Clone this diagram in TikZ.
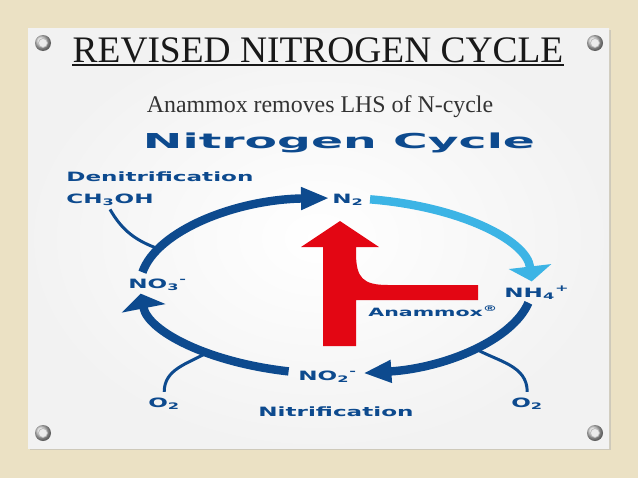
\documentclass[tikz,border=0pt]{standalone}
\usepackage{fontspec}
\setmainfont{Liberation Serif}
\newfontfamily\labfont{DejaVu Sans}[FakeStretch=1.8]
\newfontfamily\headfont{DejaVu Sans}[FakeStretch=2.3]
\usetikzlibrary{arrows.meta}
\definecolor{navy}{HTML}{0D4A8E}
\definecolor{sky}{HTML}{3CB4E5}
\definecolor{anared}{HTML}{E30613}
\definecolor{canvas}{HTML}{EBE1C4}
\definecolor{board}{HTML}{F6F6F6}
\tikzset{
  heading/.style={font=\fontsize{21.3}{24}\selectfont, text=black!90, inner sep=0pt},
  sub/.style={font=\fontsize{13.6}{16}\selectfont, text=black!80, inner sep=0pt},
  lab/.style={font=\labfont\bfseries\fontsize{7.3}{9}\selectfont, text=navy, inner sep=0pt},
  cyc/.style={line width=4.8pt, draw=navy},
  feed/.style={line width=1.7pt, draw=navy},
  longtip/.style={-{Triangle[length=16pt,width=12pt]}},
  widetip/.style={-{Triangle[length=8.5pt,width=25pt]}}
}

\begin{document}
\begin{tikzpicture}[x=0.02cm,y=0.02cm]
\useasboundingbox (0,0) rectangle (638,478);
% board
\fill[canvas] (0,0) rectangle (638,478);
\fill[black!30,opacity=0.5] (30,28) rectangle (611,448);
\shade[inner color=white, outer color=gray!10] (28,30) rectangle (609,450);
\foreach \p in {(43,435),(595,435),(43,45),(595,45)}{
  \shade[ball color=gray!35] \p circle (8);
  \fill[gray!15] \p circle (4.5);
  \draw[gray!55,line width=0.4pt] \p circle (4.5);
}

% headings
\node[heading,anchor=base] (title) at (318,416) {REVISED NITROGEN CYCLE};
\draw[line width=1.3pt,black!90] ([yshift=-1.7pt]title.base west) -- ([yshift=-1.7pt]title.base east);
\node[sub,anchor=base] (subt) at (320,366) {Anammox removes LHS of N-cycle};
\node[inner sep=0pt,anchor=base,text=navy,font=\headfont\bfseries\fontsize{11.7}{13}\selectfont] (cycname) at (339,330) {Nitrogen Cycle};

% labels
\node[lab,anchor=base west] (deni) at (66,297) {Denitrification};
\node[lab,anchor=base west] (ch) at (66,275) {CH\textsubscript{3}OH};
\node[lab,anchor=base west] (n2) at (332,275) {N\textsubscript{2}};
\node[lab,anchor=base west] (nh4) at (504,181) {NH\textsubscript{4}\textsuperscript{+}};
\node[lab,anchor=base west] (no3) at (128,190) {NO\textsubscript{3}\textsuperscript{-}};
\node[lab,anchor=base west] (no2) at (298,98) {NO\textsubscript{2}\textsuperscript{-}};
\node[lab,anchor=base west] (o2l) at (148,71) {O\textsubscript{2}};
\node[lab,anchor=base west] (o2r) at (511,71) {O\textsubscript{2}};
\node[lab,anchor=base west] (nitri) at (258,62) {Nitrification};
\node[lab,anchor=base west,font=\labfont\bfseries\fontsize{6.5}{8}\selectfont] (ana) at (368,162) {Anammox\textsuperscript{®}};

% cycle
\coordinate (C) at (336,192);
\path (C) ++(171:196 and 88) coordinate (s1);
\path (C) ++(80:196 and 88) coordinate (s2);
\path (C) ++(-11:196 and 88) coordinate (s3);
\path (C) ++(256:196 and 88) coordinate (s4);
\path (C) ++(155:196 and 88) coordinate (jd);
\path (C) ++(229:196 and 88) coordinate (jl);
\path (C) ++(-45:196 and 88) coordinate (jr);
\draw[cyc,longtip] (s1) arc[start angle=171, end angle=92, x radius=196, y radius=88];
\draw[cyc,draw=sky,-{Triangle[length=8.5pt,width=24pt]},sky] (s2) arc[start angle=80, end angle=3, x radius=196, y radius=88];
\draw[cyc,longtip] (s3) arc[start angle=-11, end angle=-82, x radius=196, y radius=88];
\draw[cyc,widetip] (s4) arc[start angle=256, end angle=185, x radius=196, y radius=88];

% side feeds
\draw[feed] ([yshift=-2pt]ch.south) to[out=-60,in=160] (jd);
\draw[feed] ([yshift=3pt]o2l.north) to[out=90,in=210] (jl);
\draw[feed] ([yshift=3pt]o2r.north) to[out=90,in=-30] (jr);

% anammox arrow
\fill[anared] (323,132) -- (323,231) -- (301,231) -- (340,257) -- (379,231) -- (356,231)
  -- (356,225) .. controls (356,200) and (363,193) .. (388,193) -- (478,193) -- (478,178)
  -- (356,178) -- (356,132) -- cycle;
\end{tikzpicture}
\end{document}
